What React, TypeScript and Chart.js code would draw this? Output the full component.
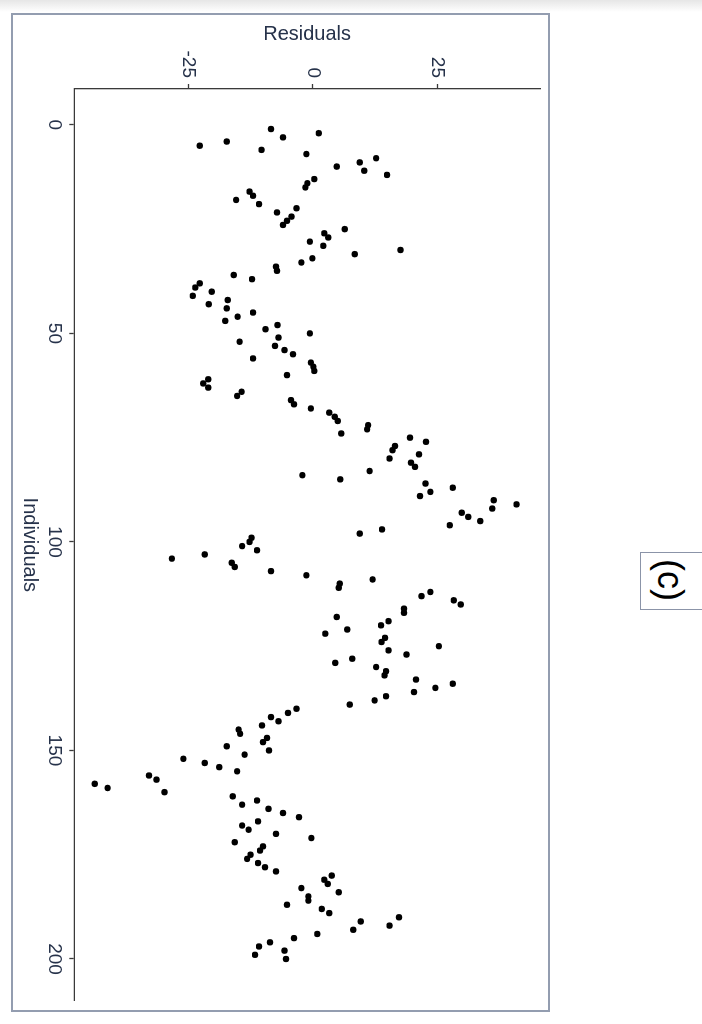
import { useEffect, useRef } from 'react';
import { Chart, registerables } from 'chart.js';

Chart.register(...registerables);

// residual for individuals 1..200
const residuals = [
  -8.4, 1.2, -6.0, -17.3, -22.7, -10.3, -1.3, 12.7, 9.4, 4.8,
  10.3, 14.9, 0.3, -1.1, -1.5, -12.7, -12.0, -15.4, -10.8, -3.3,
  -7.2, -4.3, -5.2, -6.0, 6.4, 2.3, 3.1, -0.6, 2.1, 17.6,
  8.4, -0.1, -2.3, -7.4, -7.2, -15.9, -12.2, -22.7, -23.6, -20.3,
  -24.1, -17.1, -20.9, -17.3, -12.0, -15.1, -17.6, -7.1, -9.5, -0.6,
  -6.9, -14.7, -7.6, -5.7, -4.0, -12.0, -0.4, 0.1, 0.3, -5.2,
  -21.0, -22.0, -21.0, -14.3, -15.2, -4.4, -3.8, -0.4, 3.3, 4.4,
  5.0, 11.1, 10.9, 5.7, 19.5, 22.7, 16.5, 16.0, 21.3, 15.4,
  19.7, 20.5, 11.4, -2.1, 5.5, 22.6, 28.1, 23.6, 21.5, 36.3,
  40.9, 36.0, 29.9, 31.2, 33.6, 27.5, 13.9, 9.4, -12.3, -12.7,
  -14.2, -11.2, -21.7, -28.3, -16.3, -15.7, -8.4, -1.3, 12.0, 5.4,
  5.2, 23.6, 21.8, 28.3, 29.7, 18.3, 18.3, 4.8, 15.2, 13.7,
  6.9, 2.5, 14.5, 13.8, 25.3, 15.2, 18.8, 7.9, 4.5, 12.7,
  14.7, 14.4, 20.7, 28.1, 24.6, 20.3, 14.7, 12.4, 7.4, -3.3,
  -5.0, -8.4, -6.9, -10.2, -14.9, -14.6, -9.2, -10.0, -17.3, -8.8,
  -13.7, -26.0, -21.7, -18.8, -15.2, -32.9, -31.4, -43.8, -41.2, -29.8,
  -16.1, -11.2, -14.2, -8.9, -6.0, -2.8, -11.0, -14.2, -12.9, -7.4,
  -0.3, -15.7, -10.0, -10.6, -12.5, -13.2, -11.0, -9.6, -7.4, 3.8,
  2.3, 3.0, -2.3, 5.2, -0.9, -0.9, -5.2, 1.8, 3.3, 17.3,
  9.6, 15.4, 8.1, 0.9, -3.8, -8.6, -10.8, -5.7, -11.6, -5.4,
];
const individualTicks = [0, 50, 100, 150, 200];
const residualTicks = [-25, 0, 25];
const xLabel = 'Individuals';
const yLabel = 'Residuals';
const panelLabel = '(c)';

// unrotated chart size (it is turned 90deg clockwise on the page)
const W = 996;
const H = 536;
const FONT = '"Liberation Sans", Arial, sans-serif';

export default function App() {
  const canvasRef = useRef<HTMLCanvasElement>(null);

  useEffect(() => {
    if (!canvasRef.current) return;
    const textColor = '#26324a';
    const axisColor = '#3a3a3a';

    const chart = new Chart(canvasRef.current, {
      type: 'scatter',
      data: {
        datasets: [{
          data: residuals.map((r, i) => ({ x: i + 1, y: r })),
          backgroundColor: '#000',
          borderWidth: 0,
          pointRadius: 3.2,
          pointHoverRadius: 3.2,
        }],
      },
      options: {
        animation: false,
        responsive: false,
        devicePixelRatio: 1,
        layout: { padding: { top: 8, right: 9.3, left: 0, bottom: 0 } },
        plugins: { legend: { display: false }, tooltip: { enabled: false } },
        scales: {
          x: {
            type: 'linear',
            min: -8.6,
            max: 210,
            afterBuildTicks: (s: any) => { s.ticks = individualTicks.map((v) => ({ value: v })); },
            afterFit: (s: any) => { s.height = 62.3; s.paddingLeft = 0; s.paddingRight = 0; },
            grid: { drawOnChartArea: false, drawTicks: true, tickLength: 5, tickColor: axisColor, tickWidth: 1.3 },
            border: { display: true, color: axisColor, width: 1.3 },
            ticks: { color: textColor, font: { family: FONT, size: 19 }, padding: 3.6, maxRotation: 0, autoSkip: false },
            title: { display: true, text: xLabel, color: textColor, font: { family: FONT, size: 20 }, padding: { top: 0, bottom: 6 } },
          },
          y: {
            type: 'linear',
            min: -47.9,
            max: 45.6,
            afterBuildTicks: (s: any) => { s.ticks = residualTicks.map((v) => ({ value: v })); },
            afterFit: (s: any) => { s.width = 75; s.paddingTop = 0; s.paddingBottom = 0; },
            grid: { drawOnChartArea: false, drawTicks: true, tickLength: 5, tickColor: axisColor, tickWidth: 1.3 },
            border: { display: true, color: axisColor, width: 1.3 },
            ticks: { color: textColor, font: { family: FONT, size: 19 }, padding: 6, autoSkip: false },
            title: { display: true, text: yLabel, color: textColor, font: { family: FONT, size: 20 }, padding: { top: 8, bottom: 0 } },
          },
        },
      },
    });

    return () => chart.destroy();
  }, []);

  return (
    <div style={{ position: 'absolute', left: 0, top: 0, width: 702, height: 1024, overflow: 'hidden', background: '#fff' }}>
      <div style={{ position: 'absolute', left: 0, top: 0, width: 702, height: 12, background: 'linear-gradient(#e6e6e6, #ffffff)' }} />
      {/* frame round the plot */}
      <div style={{ position: 'absolute', left: 11, top: 13, width: 535, height: 995, border: '2px solid #939db0' }} />
      <div
        style={{
          position: 'absolute',
          left: 12,
          top: 14,
          width: W,
          height: H,
          transformOrigin: '0 0',
          transform: `translateX(${H}px) rotate(90deg)`,
        }}
      >
        <canvas ref={canvasRef} width={W} height={H} style={{ width: W, height: H, display: 'block' }} />
      </div>
      {/* panel label */}
      <div style={{ position: 'absolute', left: 640, top: 552, width: 80, height: 56, border: '1px solid #8b94a8' }} />
      <div
        style={{
          position: 'absolute',
          left: 670,
          top: 580,
          transform: 'translate(-50%, -50%) rotate(90deg)',
          fontFamily: FONT,
          fontSize: 36,
          lineHeight: 1,
          color: '#000',
          whiteSpace: 'nowrap',
        }}
      >
        {panelLabel}
      </div>
    </div>
  );
}
